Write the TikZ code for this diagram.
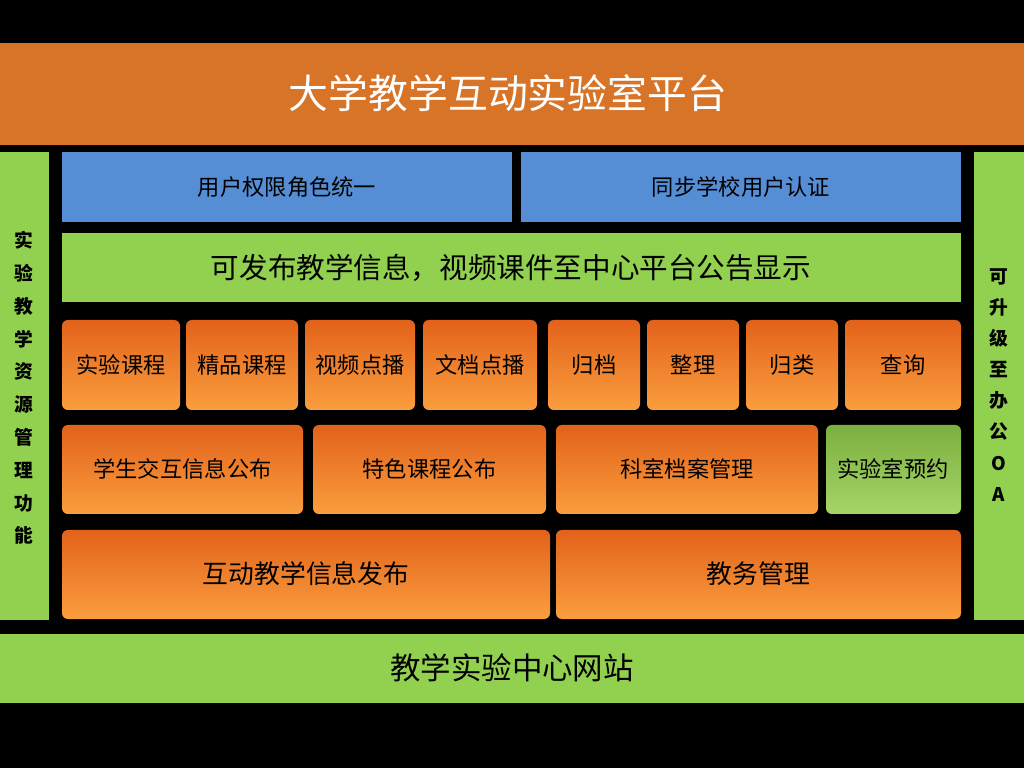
\documentclass[tikz,border=0pt]{standalone}
\usepackage{fontspec}
\newfontfamily\cjk{Noto Sans CJK SC}
\definecolor{og}{HTML}{D87427}
\definecolor{gr}{HTML}{92D050}
\definecolor{bl}{HTML}{558ED5}
\definecolor{otop}{HTML}{E2621B}
\definecolor{obot}{HTML}{FA9E3E}
\definecolor{gtop}{HTML}{7BB040}
\definecolor{gbot}{HTML}{A6D468}
\begin{document}
\begin{tikzpicture}[x=0.03cm,y=-0.03cm,
 flat/.style={draw=none,inner sep=0pt,font=\cjk},
 sm/.style={font=\cjk\fontsize{19}{22}\selectfont},
 ob/.style={rounded corners=5pt,top color=otop,bottom color=obot,draw=none},
 gb/.style={rounded corners=5pt,top color=gtop,bottom color=gbot,draw=none}]
\fill[black] (0,0) rectangle (1024,768);
\useasboundingbox (0,0) rectangle (1024,768);
\fill[og] (0,43) rectangle (1024,145);
\node[flat,white,font=\cjk\fontsize{34}{38}\selectfont] (title) at (508,93) {大学教学互动实验室平台};
\fill[gr] (0,152) rectangle (49,620);
\node[flat,font=\cjk\bfseries\fontsize{16}{28}\selectfont,align=center] (lt) at (24,388) {实\\验\\教\\学\\资\\源\\管\\理\\功\\能};
\fill[gr] (974,152) rectangle (1024,620);
\node[flat,font=\cjk\bfseries\fontsize{16}{26.5}\selectfont,align=center] (rt) at (999,385) {可\\升\\级\\至\\办\\公\\O\\A};
\fill[gr] (0,634) rectangle (1024,703);
\node[flat,font=\cjk\fontsize{26}{30}\selectfont] (bt) at (512,668) {教学实验中心网站};
\fill[bl] (62,152) rectangle (512,222);
\node[flat,sm] (b1) at (287,187) {用户权限角色统一};
\fill[bl] (521,152) rectangle (961,222);
\node[flat,sm] (b2) at (741,187) {同步学校用户认证};
\fill[gr] (62,233) rectangle (961,302);
\node[flat,font=\cjk\fontsize{24.4}{28}\selectfont] (g1) at (511,268) {可发布教学信息，视频课件至中心平台公告显示};
\foreach \a/\b/\t/\n in {62/180/实验课程/r1, 186/298/精品课程/r2, 305/415/视频点播/r3, 423/537/文档点播/r4, 548/640/归档/r5, 647/739/整理/r6, 746/838/归类/r7, 845/961/查询/r8}{
 \fill[ob] (\a,320) rectangle (\b,410);
 \node[flat,sm] (\n) at ({(\a+\b)/2},365) {\t};}
\foreach \a/\b/\t/\n in {62/303/学生交互信息公布/s1, 313/546/特色课程公布/s2, 556/818/科室档案管理/s3}{
 \fill[ob] (\a,425) rectangle (\b,514);
 \node[flat,sm] (\n) at ({(\a+\b)/2},469) {\t};}
\fill[gb] (826,425) rectangle (961,514);
\node[flat,sm] (s4) at (893,469) {实验室预约};
\foreach \a/\b/\t/\n in {62/550/互动教学信息发布/t1, 556/961/教务管理/t2}{
 \fill[ob] (\a,530) rectangle (\b,619);
 \node[flat,font=\cjk\fontsize{22}{25}\selectfont] (\n) at ({(\a+\b)/2},574) {\t};}
\end{tikzpicture}
\end{document}
